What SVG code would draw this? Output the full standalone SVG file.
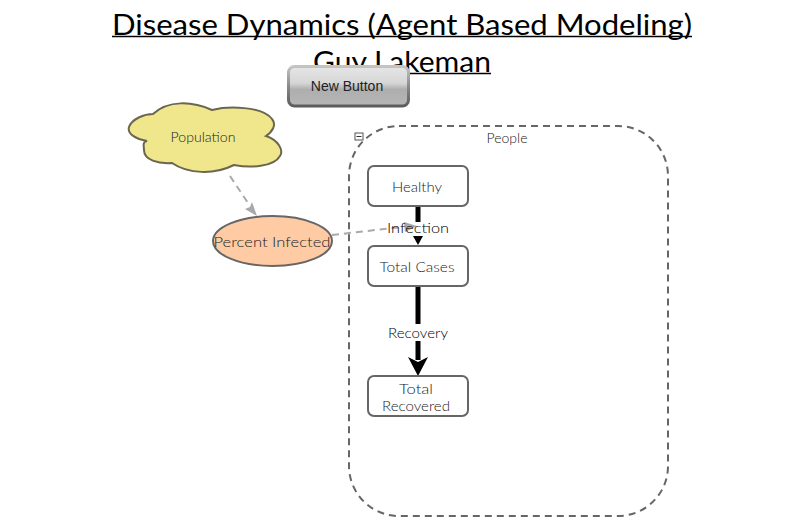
<svg xmlns="http://www.w3.org/2000/svg" width="800" height="532" viewBox="0 0 800 532">
<style>
text{font-family:"Lato","Noto Sans",sans-serif;text-anchor:middle;fill:#222;font-weight:300}
.t{font-size:29px;fill:#000;font-weight:400}
.n{font-size:14px}
.e{font-size:14px;fill:#000}
.b{fill:#fff;stroke:#666;stroke-width:2}
.d{fill:none;stroke:#aaa;stroke-width:2;stroke-dasharray:7 5}
.s{fill:none;stroke:#000;stroke-width:5}
</style>
<defs>
<linearGradient id="g1" x1="0" y1="0" x2="0" y2="1"><stop offset="0" stop-color="#e6e6e6"/><stop offset=".42" stop-color="#d6d6d6"/><stop offset=".58" stop-color="#aeaeae"/><stop offset="1" stop-color="#b6b6b6"/></linearGradient>
<linearGradient id="g2" x1="0" y1="0" x2="0" y2="1"><stop offset="0" stop-color="#c4c4c4"/><stop offset=".5" stop-color="#8a8a8a"/><stop offset="1" stop-color="#5c5c5c"/></linearGradient>
</defs>
<g id="title">
<text class="t" x="402" y="35" textLength="580" lengthAdjust="spacingAndGlyphs">Disease Dynamics (Agent Based Modeling)</text>
<line x1="112" y1="36.500" x2="692" y2="36.500" stroke="#000" stroke-width="1.500"/>
<text class="t" x="402" y="72" textLength="178" lengthAdjust="spacingAndGlyphs">Guy Lakeman</text>
<line x1="313" y1="73.500" x2="491" y2="73.500" stroke="#000" stroke-width="1.500"/>
</g>
<g id="button">
<rect x="288.500" y="66.500" width="120" height="39.500" rx="6" fill="url(#g1)" stroke="url(#g2)" stroke-width="3"/>
<text x="347" y="91" font-size="14" style="font-family:'Liberation Sans',sans-serif;fill:#222;font-weight:400">New Button</text>
</g>
<g id="people">
<rect x="349" y="126" width="319" height="390" rx="50" fill="#fff" stroke="#666" stroke-width="2" stroke-dasharray="7 5"/>
<rect x="355" y="133" width="8" height="7" fill="#fff" stroke="#555"/>
<line x1="356.500" y1="136.500" x2="361.500" y2="136.500" stroke="#333"/>
<text class="n" x="507" y="143" textLength="41" lengthAdjust="spacingAndGlyphs">People</text>
</g>
<g id="connectors">
<path class="s" d="M418 206V222"/>
<path d="M413 236H423L418 245Z" fill="#000"/>
<path class="d" d="M230 176L250 206"/>
<path d="M257 216L245 209L250 207L252 202Z" fill="#a8a8a8"/>
<path class="d" d="M332 235L402 227"/>
<path d="M404 222L417 226L405 232Z" fill="#a8a8a8"/>
<path class="s" d="M418 286V324M418 341V360"/>
<path d="M408 357L418 362L428 357L418 376Z" fill="#000"/>
</g>
<g id="population">
<path d="M153 114C168 100 192 101 212 110C228 106 262 106 272 119C277 125 272 132 266 136C278 140 284 150 280 156C274 167 250 168 234 165C214 175 188 174 172 163C158 164 144 160 144 150C144 146 142 142 147 141C136 139 127 134 129 127C132 119 144 114 153 114Z" fill="#f0e68c" stroke="#6b6650" stroke-width="2"/>
<text class="n" x="203" y="142" textLength="65" lengthAdjust="spacingAndGlyphs">Population</text>
</g>
<g id="percent-infected">
<ellipse cx="272.500" cy="241" rx="59.500" ry="25" fill="#ffcba4" stroke="#666" stroke-width="2"/>
<text class="n" x="272" y="247" textLength="117" lengthAdjust="spacingAndGlyphs">Percent Infected</text>
</g>
<g id="healthy">
<rect class="b" x="368" y="166" width="100" height="40" rx="6"/>
<text class="n" x="417" y="192" textLength="50" lengthAdjust="spacingAndGlyphs">Healthy</text>
</g>
<g id="total-cases">
<rect class="b" x="368" y="246" width="100" height="40" rx="6"/>
<text class="n" x="417" y="272" textLength="75" lengthAdjust="spacingAndGlyphs">Total Cases</text>
</g>
<g id="total-recovered">
<rect class="b" x="368" y="376" width="100" height="40" rx="6"/>
<text class="n" x="416" y="394" textLength="34" lengthAdjust="spacingAndGlyphs">Total</text>
<text class="n" x="416" y="411" textLength="68" lengthAdjust="spacingAndGlyphs">Recovered</text>
</g>
<g id="edge-labels">
<text class="e" x="418" y="233" textLength="62" lengthAdjust="spacingAndGlyphs">Infection</text>
<text class="e" x="418" y="338" textLength="60" lengthAdjust="spacingAndGlyphs">Recovery</text>
</g>
</svg>
